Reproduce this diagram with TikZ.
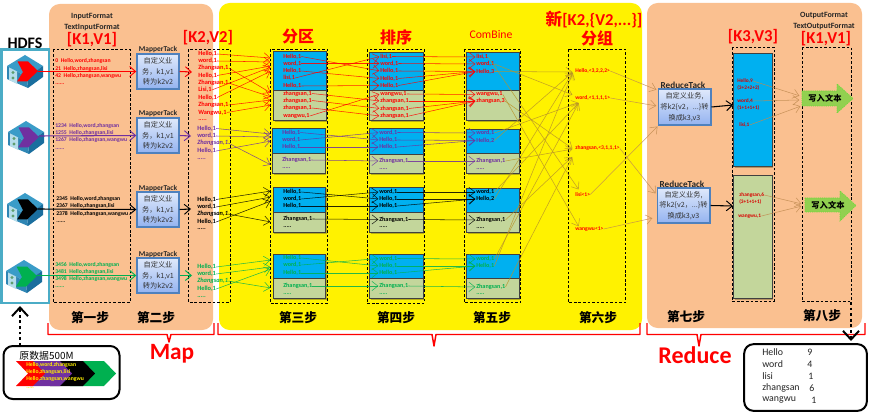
\documentclass[tikz,border=0pt]{standalone}
\usepackage{fontspec}
\setmainfont{Carlito}
\newfontfamily\cjk{Noto Sans CJK SC}
\usetikzlibrary{arrows.meta,shadows}
\definecolor{panelorange}{HTML}{FAC090}
\definecolor{hdfsblue}{HTML}{4BACC6}
\definecolor{ppl}{HTML}{7030A0}
\definecolor{grn}{HTML}{00B050}
\definecolor{cellblue}{HTML}{00B0F0}
\definecolor{cellgreen}{HTML}{C3D69B}
\definecolor{tanline}{HTML}{B8922A}
\definecolor{tanline2}{HTML}{C08A50}
\definecolor{wgreen}{HTML}{92D050}
\definecolor{tasktop}{HTML}{DFE9FB}
\definecolor{taskbot}{HTML}{94B3F0}
\definecolor{taskedge}{HTML}{4F81BD}
\definecolor{srvtop}{HTML}{3A9CC8}
\definecolor{srvleft}{HTML}{2F86B4}
\definecolor{srvright}{HTML}{1A6E9E}
\definecolor{srvpanel}{HTML}{B5DDEB}
\definecolor{srvled}{HTML}{5F9E6E}
\tikzset{
  x=0.75pt,y=-0.75pt,
  panel/.style={fill=#1,draw=none,rounded corners=8pt},
  dashbox/.style={draw=black,line width=.65pt,dash pattern=on 2pt off 1.4pt},
  cell/.style={fill=#1,draw=black!75,line width=.7pt},
  rowtxt/.style={anchor=west,inner sep=0pt},
  conn/.style={line width=.4pt,-{Straight Barb[length=4.5pt,width=7pt,line width=.4pt]},opacity=.85,shorten >=.5pt},
  bigarrow/.style={line width=.8pt,-{Straight Barb[length=4.5pt,width=7.5pt,line width=.7pt]}},
  task/.style={draw=taskedge,line width=1pt,top color=tasktop,bottom color=taskbot,
     align=center,inner sep=0pt,font=\cjk\fontsize{5.4}{8}\selectfont,text=black!80,
     minimum width=31.5pt,minimum height=26.25pt,drop shadow={shadow xshift=.7pt,shadow yshift=-.7pt,opacity=.35}},
  tasklabel/.style={inner sep=0pt,font=\fontsize{5.6}{6}\selectfont\bfseries,text=black!85},
  fmt/.style={inner sep=0pt,font=\fontsize{6}{7}\selectfont\bfseries,text=black!85},
  kv/.style={inner sep=0pt,text=red,font=\fontsize{12.5}{14}\selectfont\bfseries},
  cntitle/.style={inner sep=0pt,text=red,font=\cjk\fontsize{12}{14}\selectfont\bfseries},
  steplabel/.style={inner sep=0pt,font=\cjk\fontsize{9.5}{11}\selectfont\bfseries},
  bigword/.style={inner sep=0pt,text=red,font=\bfseries},
  brace/.style={draw=red,line width=1.1pt,line join=round},
  rbox/.style={draw=black,line width=1.5pt,fill=white,rounded corners=7pt,inner sep=0pt},
  dotarrow/.style={line width=2.1pt,dash pattern=on 2.1pt off 2.1pt,-{Straight Barb[length=6.5pt,width=12pt,line width=1.5pt]}},
  restxt/.style={anchor=west,inner sep=0pt,font=\fontsize{7.4}{8}\selectfont,text=black!85},
  k3txt/.style={anchor=west,inner sep=0pt,text=red!85!black,font=\fontsize{4}{5}\selectfont\bfseries},
  writetxt/.style={inner sep=0pt,font=\cjk\fontsize{6.2}{7}\selectfont\bfseries},
  writearrow/.style={fill=wgreen,draw=wgreen!70!green,line width=.5pt,dash pattern=on .8pt off .8pt},
}
\newcommand\rows[5][4.6]{\foreach \i/\y/\s in {#5}{\node[rowtxt,text=#4,font=\fontsize{#1}{5}\selectfont\bfseries] (#2-\i) at (#3,\y) {\s};}}
\newcommand\links[4]{\foreach \a/\b in {#4}{\draw[conn,draw=#3] (#1-\a.east) -- (#2-\b.west);}}
\newcommand\ports[4]{\foreach \a/\py/\q in {#4}{\coordinate (q#1\q) at (#3,\py); \draw[conn,draw=#2] (#1-\a.east) -- (q#1\q);}}
\newcommand\column[5]{% x1,x2,ytop,ymid,ybot
  \fill[olive!60!black,opacity=.45] (#1+1.4,#3+1.4) rectangle (#2+1.4,#5+1.6);
  \draw[cell=cellblue] (#1,#3) rectangle (#2,#4);
  \draw[cell=cellgreen] (#1,#4) rectangle (#2,#5);
}
\newcommand\server[3]{%
  \begin{scope}[shift={(#1,#2)}]
    \fill[srvtop] (25,55) -- (43,66) -- (27,77) -- (7,66) -- cycle;
    \fill[srvleft] (7,66) -- (27,77) -- (28,88) -- (7,79) -- cycle;
    \fill[srvright] (43,66) -- (27,77) -- (28,88) -- (43,77) -- cycle;
    \fill[srvpanel] (9,67.5) -- (17,71.5) -- (17,84) -- (9,80) -- cycle;
    \fill[srvled] (13,72.5) circle (1.6);
    \fill[srvled] (13,78) circle (1.6);
    \fill[#3] (17.5,61.5) -- (28,61.5) -- (38,71) -- (27,81.5) -- (17,81.5) -- (23,72) -- cycle;
  \end{scope}%
}
\begin{document}
\begin{tikzpicture}
\useasboundingbox (0,0) rectangle (877,413);
% panels
\path[panel=panelorange] (49,4) rectangle (213,330);
\path[panel=yellow] (219,3) rectangle (642,330);
\path[panel=panelorange] (647,3) rectangle (862,328);
% HDFS
\node[inner sep=0pt,font=\fontsize{12}{14}\selectfont\bfseries] (hdfsT) at (25,43) {HDFS};
\draw[draw=hdfsblue,line width=1.8pt,fill=white] (1.5,49.5) rectangle (49,303);
\server{0}{0}{red}
\server{1}{66}{ppl}
\server{0}{138}{black}
\server{-1}{205}{grn}
\coordinate (ic1) at (38,71.5);
\coordinate (ic2) at (39,136);
\coordinate (ic3) at (38,209);
\coordinate (ic4) at (37,275.5);
% titles
\node[fmt] (inF) at (92,17) {InputFormat};
\node[fmt] (tinF) at (92,27.5) {TextInputFormat};
\node[kv] (k1a) at (92,39.5) {[K1,V1]};
\node[kv] (k2a) at (208,38) {[K2,V2]};
\node[cntitle] (t3) at (298,37) {分区};
\node[cntitle] (t4) at (396,37) {排序};
\node[inner sep=0pt,text=red,font=\fontsize{8.8}{10}\selectfont] (t5) at (491,35) {ComBine};
\node[inner sep=0pt,text=red,font=\fontsize{12.5}{14}\selectfont\bfseries] (t6a) at (594,20) {{\cjk\bfseries 新}[K2,\{V2,...\}]};
\node[cntitle] (t6b) at (597,38) {分组};
\node[kv] (k3a) at (753,37) {[K3,V3]};
\node[kv] (k1b) at (826,39) {[K1,V1]};
\node[fmt] (ouF) at (824,16) {OutputFormat};
\node[fmt] (touF) at (824,27) {TextOutputFormat};
% dashed columns
\draw[dashbox] (53,49.5) rectangle (130,302);
\draw[dashbox] (188.5,49.5) rectangle (230.5,302);
\draw[dashbox] (270.5,49.5) rectangle (327.5,303);
\draw[dashbox] (367,49.5) rectangle (424.5,303);
\draw[dashbox] (464.5,49.5) rectangle (520.5,302.5);
\draw[dashbox] (568.5,49.5) rectangle (625.5,302.5);
\draw[dashbox] (732,47.5) rectangle (774,301);
\draw[dashbox] (802,47.5) rectangle (851,301);
% partition / sort / combine cells
\column{273.5}{326}{51}{90}{120}
\column{272.5}{325}{128.5}{153}{173}
\column{273}{325.5}{187}{212}{232}
\column{273}{325.5}{254}{278}{298}
\column{369.5}{423}{52}{90}{120}
\column{369.5}{423}{128.5}{154}{173}
\column{369.5}{423}{187}{212}{232}
\column{369.5}{423}{254}{278}{298}
\column{466.5}{519}{52}{90}{120}
\column{466.5}{519}{129.5}{153.5}{173.5}
\column{466.5}{519}{188}{212}{232}
\column{466.5}{519}{254}{278}{298}
\column{733.5}{772}{53}{166}{166}
\column{733.5}{772}{175}{175}{298}
% K1 rows
\rows[4.3]{A1}{55}{red}{1/61/{0~~Hello,word,zhangsan},2/68.5/{21~~Hello,zhangsan,lisi},3/76/{42~~Hello,zhangsan,wangwu},4/84.5/{......}}
\rows[4.3]{A2}{55}{ppl}{1/125.5/{1234~~Hello,word,zhangsan},2/132.5/{1255~~Hello,zhangsan,lisi},3/140/{1267~~Hello,zhangsan,wangwu},4/149/{......}}
\rows[4.3]{A3}{56}{black}{1/198.5/{2345~~Hello,word,zhangsan},2/206/{2367~~Hello,zhangsan,lisi},3/214/{2378~~Hello,zhangsan,wangwu},4/222/{......}}
\rows[4.3]{A4}{55}{grn}{1/264.5/{3456~~Hello,word,zhangsan},2/272/{3481~~Hello,zhangsan,lisi},3/279/{3498~~Hello,zhangsan,wangwu},4/287.5/{......}}
% mapper boxes
\foreach \n/\y/\ly in {1/71.5/49.5,2/135.5/113.5,3/209.5/188,4/275.5/254}{
  \node[tasklabel] (ML\n) at (158,\ly) {MapperTack};
  \node[task] (M\n) at (158,\y) {自定义业\\务，k1,v1\\转为k2v2};
}
% K2 rows
\rows[4.8]{K1}{198}{red}{1/54/{Hello,1},2/61/{word,1},3/68/{Zhangsan,1},4/75.5/{Hello,1},5/83/{Zhangsan,1},6/90/{Lisi,1},7/97.5/{Hello,1},8/105/{Zhangsan,1},9/112.5/{Wangwu,1},10/120/{.....}}
\rows[4.8]{K2}{197}{ppl}{1/128.5/{Hello,1},2/136/{word,1},3/143/{\itshape Zhangsan,1},4/151/{Hello,1},5/159/{.....}}
\rows[4.8]{K3}{197}{black}{1/199.5/{Hello,1},2/207/{word,1},3/214/{\itshape Zhangsan,1},4/222/{Hello,1},5/229.5/{.....}}
\rows[4.8]{K4}{197}{grn}{1/267/{Hello,1},2/274/{word,1},3/281/{\itshape Zhangsan,1},4/289/{Hello,1},5/297/{.....}}
% partition rows
\rows{P1}{283}{red}{1/56.5/{Hello,1},2/63.5/{word,1},3/71/{Hello,1},4/78/{lisi,1},5/86/{Hello,1},6/93.5/{zhangsan,1},7/100.5/{zhangsan,1},8/108/{zhangsan,1},9/116/{wangwu,1}}
\rows{P2}{282}{ppl}{1/132.5/{Hello,1},2/140/{word,1},3/147/{Hello,1},4/160/{Zhangsan,1},5/168/{.....}}
\rows{P3}{283}{black}{1/192/{Hello,1},2/199/{word,1},3/206/{Hello,1},4/219/{Zhangsan,1},5/227/{.....}}
\rows{P4}{283}{grn}{1/258/{Hello,1},2/265/{word,1},3/273/{Hello,1},4/286/{Zhangsan,1},5/294/{.....}}
% sort rows
\rows{S1}{380}{red}{1/56.5/{lisi,1},2/63.5/{word,1},3/71/{Hello,1},4/78.5/{Hello,1},5/85.5/{Hello,1},6/94/{wangwu,1},7/101/{zhangsan,1},8/108.5/{zhangsan,1},9/116/{zhangsan,1}}
\rows{S2}{379}{ppl}{1/132.5/{word,1},2/140/{Hello,1},3/147/{Hello,1},4/161/{Zhangsan,1},5/169/{.....}}
\rows{S3}{379}{black}{1/192/{word,1},2/199/{Hello,1},3/206/{Hello,1},4/219.5/{Zhangsan,1},5/227/{.....}}
\rows{S4}{379}{grn}{1/258.5/{word,1},2/266/{Hello,1},3/273/{Hello,1},4/286/{Zhangsan,1},5/294/{.....}}
% combine rows
\rows{C1}{476}{red}{1/57/{lisi,1},2/64/{word,1},3/71.5/{Hello,3},4/94.5/{wangwu,1},5/101/{zhangsan,3}}
\rows{C2}{476}{ppl}{1/133/{word,1},2/140.5/{Hello,2},3/161/{Zhangsan,1},4/169/{.....}}
\rows{C3}{476}{black}{1/192/{word,1},2/199/{Hello,2},3/220/{Zhangsan,1},4/228/{.....}}
\rows{C4}{476}{grn}{1/259/{word,1},2/266/{Hello,1},3/287/{Zhangsan,1},4/294/{.....}}
% grouping rows
\rows[4.2]{G}{575}{red}{1/71/{Hello,<3,2,2,2>},2/98/{word,<1,1,1,1>},3/148.5/{zhangsan,<3,1,1,1>},4/194.5/{lisi<1>},5/229/{wangwu<1>}}
% HDFS to mapper, mapper to K2
\foreach \n/\c in {1/red,2/ppl,3/black,4/grn}{
  \draw[bigarrow,draw=\c] (ic\n) -- (M\n.west);
}
\coordinate (kin1) at (192,72);
\coordinate (kin2) at (191,136);
\coordinate (kin3) at (191,209);
\coordinate (kin4) at (192,275.5);
\foreach \n/\c in {1/red,2/ppl,3/black,4/grn}{
  \draw[bigarrow,draw=\c] (M\n.east) -- (kin\n);
}
% K2 to partition
\ports{K1}{red}{271}{1/58/a,2/62/b,3/93/c,4/66/d,5/97/e,6/67/f,7/71/g,8/100/h,9/105/i}
\ports{K2}{ppl}{271}{1/134/a,2/137/b,3/165/c,4/141/d}
\ports{K3}{black}{271}{1/191/a,2/197/b,3/222/c,4/201/d}
\ports{K4}{grn}{271}{1/260/a,2/267/b,3/288/c,4/269/d}
% partition to sort
\links{P1}{S1}{red}{1/3,2/2,3/4,4/1,5/5,6/7,7/8,8/9,9/6}
\links{P2}{S2}{ppl}{1/2,2/1,3/3,4/4}
\links{P3}{S3}{black}{1/2,2/1,3/3,4/4}
\links{P4}{S4}{grn}{1/2,2/1,3/3,4/4}
% sort to combine
\links{S1}{C1}{red}{1/1,2/2,3/3,4/3,5/3,6/4,7/5,8/5,9/5}
\links{S2}{C2}{ppl}{1/1,2/2,3/2,4/3}
\links{S3}{C3}{black}{1/1,2/2,3/2,4/3}
\links{S4}{C4}{grn}{1/1,2/2,3/2,4/3}
% combine to group
\coordinate (pH) at (573,72);
\coordinate (pW1) at (573,95);
\coordinate (pW2) at (579,102.5);
\coordinate (pZ1) at (573,149);
\coordinate (pZ2) at (572.5,156.5);
\coordinate (pL) at (579,190);
\coordinate (pU) at (579,227);
\foreach \a/\b in {C1-1/pL,C1-2/pW1,C1-3/pH,C1-4/pU,C1-5/pZ1,C2-1/pW2,C2-2/pH,C2-3/pZ1,C3-1/pW2,C3-2/pH,C3-3/pZ2,C4-1/pW2,C4-2/pH,C4-3/pZ2}{
  \draw[conn,draw=tanline] (\a.east) -- (\b);
}
% reduce boxes
\node[tasklabel,font=\fontsize{6.9}{8}\selectfont\bfseries] (RL1) at (683,85) {ReduceTack};
\node[task,minimum width=39.5pt,minimum height=27pt] (R1) at (684.5,107) {自定义业务,\\将k2\{v2，...\}转\\换成k3,v3};
\node[tasklabel,font=\fontsize{6.9}{8}\selectfont\bfseries] (RL2) at (682,184) {ReduceTack};
\node[task,minimum width=39.5pt,minimum height=26.25pt] (R2) at (683.5,205.5) {自定义业务,\\将k2\{v2，...\}转\\换成k3,v3};
\coordinate (r1a) at (657,90);
\coordinate (r1b) at (657,106);
\coordinate (r1c) at (658,126);
\coordinate (r2a) at (656,194);
\coordinate (r2b) at (653,218);
\foreach \a/\b in {G-1/r1a,G-2/r1b,G-3/r2a,G-4/r1c,G-5/r2b}{
  \draw[conn,draw=tanline2] (\a.east) -- (\b);
}
\coordinate (k3i1) at (733,105);
\coordinate (k3i2) at (733,206);
\draw[bigarrow] (R1.east) -- (k3i1);
\draw[bigarrow] (R2.east) -- (k3i2);
% K3 texts
\foreach \n/\x/\y/\s in {a/737/81/{Hello,9},b/737/88/{(3+2+2+2)},c/737/101/{word,4},d/737/108/{(1+1+1+1)},e/739/125/{lisi,1},f/739/195/{zhangsan,6},g/739/202/{(3+1+1+1)},h/738/216/{wangwu,1}}{
  \node[k3txt] (V\n) at (\x,\y) {\s};
}
% write arrows
\path[writearrow] (802,91) -- (837,91) -- (837,84) -- (853,98.5) -- (837,113) -- (837,106) -- (802,106) -- cycle;
\path[writearrow] (805,198) -- (840,198) -- (840,191) -- (856,205.5) -- (840,221) -- (840,212) -- (805,212) -- cycle;
\node[writetxt] (W1) at (825,98.5) {写入文本};
\node[writetxt] (W2) at (828,205) {写入文本};
\coordinate (wa) at (800,96);
\coordinate (wb) at (800,100);
\coordinate (wc) at (801,106);
\coordinate (wd) at (802,204);
\coordinate (we) at (802,206);
\foreach \a/\b in {Va/wa,Vc/wb,Ve/wc,Vf/wd,Vh/we}{
  \draw[conn,draw=tanline2] (\a.east) -- (\b);
}
% step labels
\foreach \n/\x/\y/\s in {1/90/318/第一步,2/156/318/第二步,3/298/318/第三步,4/396/318/第四步,5/492/318/第五步,6/598/318/第六步,7/686/317/第七步,8/822/316/第八步}{
  \node[steplabel] (st\n) at (\x,\y) {\s};
}
% braces
\draw[brace] (48,323) -- (48,334.5) -- (167,334.5) -- (169,342) -- (171,334.5) -- (214,334.5) -- (214,323);
\draw[brace] (218,323) -- (218,334.5) -- (432,334.5) -- (434,346) -- (436,334.5) -- (640,334.5) -- (640,323);
\draw[brace] (647,323) -- (647,334.5) -- (697,334.5) -- (699,346) -- (701,334.5) -- (865,334.5) -- (865,323);
\node[bigword,font=\fontsize{17.5}{20}\selectfont\bfseries] (mapW) at (172,354) {Map};
\node[bigword,font=\fontsize{18}{20}\selectfont\bfseries] (redW) at (695,355) {Reduce};
% source data box
\node[rbox,minimum width=87pt,minimum height=39.75pt] (dataB) at (61.5,372.5) {};
\node[inner sep=0pt,font=\cjk\fontsize{7.4}{9}\selectfont] (dataT) at (46.5,355.5) {原数据500M};
\fill[grn] (70,361) -- (104,361) -- (116,373.5) -- (104,386) -- (70,386) -- cycle;
\fill[black] (50,361) -- (83,361) -- (95,373.5) -- (83,386) -- (50,386) -- cycle;
\fill[ppl] (30,361) -- (60,361) -- (72,373.5) -- (60,386) -- (30,386) -- cycle;
\fill[red] (16,361) -- (33,361) -- (45,373.5) -- (33,386) -- (16,386) -- (28,373.5) -- cycle;
\rows[4.3]{D}{26}{yellow}{1/365/{Hello,word,zhangsan},2/372/{Hello,zhangsan,lisi},3/379/{Hello,zhangsan,wangwu},4/388/{.....}}
\coordinate (upA) at (20,345.5);
\coordinate (upB) at (20,306);
\draw[dotarrow] (upA) -- (upB);
% result box
\coordinate (dnA) at (851,302);
\coordinate (dnB) at (851,341);
\draw[dotarrow] (dnA) -- (dnB);
\node[rbox,minimum width=92pt,minimum height=50pt] (resB) at (805.5,377.5) {};
\foreach \n/\y/\w/\x/\v in {1/352/Hello/807/9,2/364/word/807/4,3/376/lisi/808/1,4/388/zhangsan/809/6,5/400/wangwu/811/1}{
  \node[restxt] (rw\n) at (762,\y) {\w};
  \node[restxt] (rv\n) at (\x,\y) {\v};
}
\end{tikzpicture}
\end{document}
